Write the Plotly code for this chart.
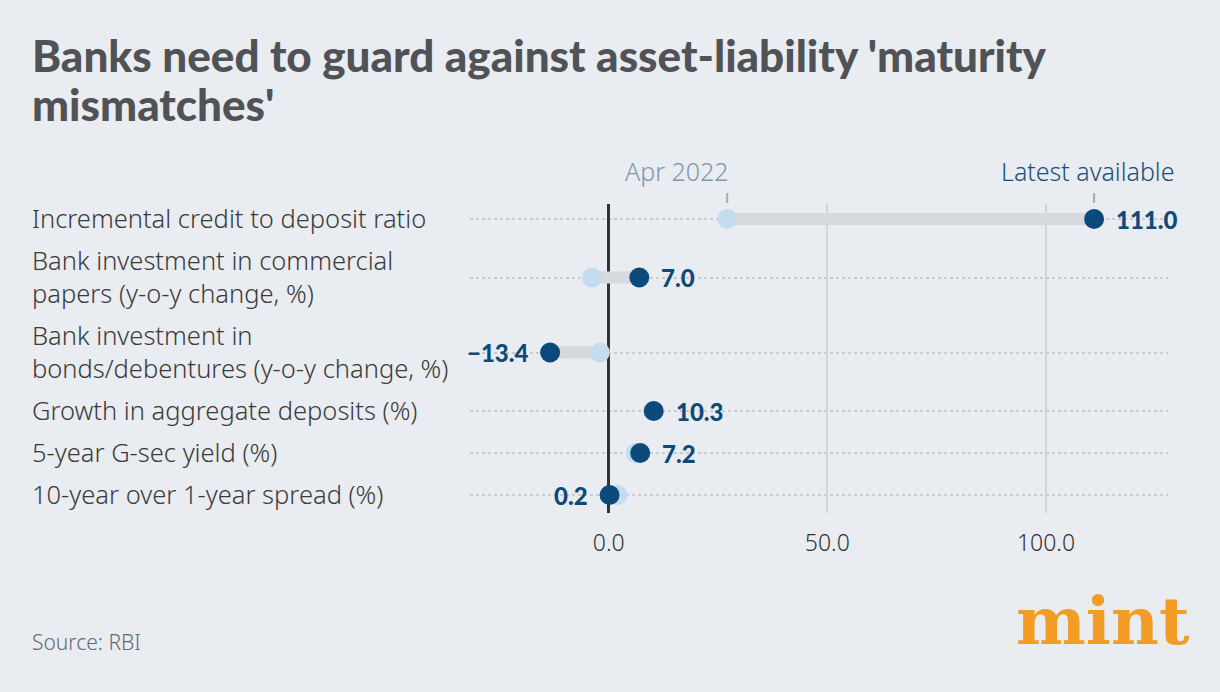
import plotly.graph_objects as go

# ---------------- data ----------------
categories = [
    "Incremental credit to deposit ratio",
    "Bank investment in commercial\npapers (y-o-y change, %)",
    "Bank investment in\nbonds/debentures (y-o-y change, %)",
    "Growth in aggregate deposits (%)",
    "5-year G-sec yield (%)",
    "10-year over 1-year spread (%)",
]
apr_2022 = [27.1, -3.8, -2.0, 10.1, 6.2, 2.0]
latest = [111.0, 7.0, -13.4, 10.3, 7.2, 0.2]
x_ticks = [0, 50, 100]
title_lines = ["Banks need to guard against asset-liability 'maturity", "mismatches'"]
source_text = "Source: RBI"

# ---------------- layout helpers ----------------
W, H = 1220, 692
BG = "#e9ecf1"
DARK_BLUE = "#0c4a7b"
LIGHT_BLUE = "#c3ddef"
CONNECT = "#d8d9dc"
TXT = "#3a3b3d"

# row positions derived from number of label lines
BASE_GAP, LINE_HALF = 42, 16.5
nlines = [c.count("\n") + 1 for c in categories]
rows = [0.0]
for i in range(1, len(categories)):
    rows.append(rows[-1] + BASE_GAP + LINE_HALF * ((nlines[i - 1] - 1) + (nlines[i] - 1)))

plot_left, plot_right = 470, 1168
plot_top, plot_bottom = 204, 513
zero_px, hundred_px = 608.7, 1046
ppu = (hundred_px - zero_px) / 100
x_range = [(plot_left - zero_px) / ppu, (plot_right - zero_px) / ppu]
row0_px = 219
y_range = [plot_bottom - row0_px, plot_top - row0_px]


def ypaper(px):
    return 1 - px / H


fig = go.Figure()

# connectors
cx, cy = [], []
for a, l, r in zip(apr_2022, latest, rows):
    cx += [a, l, None]
    cy += [r, r, None]
fig.add_trace(go.Scatter(x=cx, y=cy, mode="lines",
                         line=dict(color=CONNECT, width=12),
                         hoverinfo="skip", showlegend=False))
fig.add_trace(go.Scatter(x=apr_2022, y=rows, mode="markers",
                         marker=dict(size=20, color=LIGHT_BLUE),
                         name="Apr 2022", showlegend=False))
fig.add_trace(go.Scatter(x=latest, y=rows, mode="markers",
                         marker=dict(size=20, color=DARK_BLUE),
                         name="Latest available", showlegend=False))

annotations = []

# category labels
for cat, r in zip(categories, rows):
    annotations.append(dict(
        xref="paper", yref="y", x=30 / W, y=r - 1,
        text=cat.replace("\n", "<br>"), showarrow=False,
        xanchor="left", yanchor="middle", align="left",
        font=dict(family="Noto Sans", size=25.5, color=TXT, weight=300)))

# value labels
for a, l, r in zip(apr_2022, latest, rows):
    right = l >= a
    annotations.append(dict(
        xref="x", yref="y", x=l, y=r,
        text=f"{l:.1f}".replace("-", "\u2212"), showarrow=False,
        xanchor="left" if right else "right", yanchor="middle",
        xshift=20 if right else -20,
        font=dict(family="Lato", size=24, color=DARK_BLUE, weight=900)))

# series headers
annotations.append(dict(xref="x", yref="paper", x=apr_2022[0], y=ypaper(190),
                        text="Apr 2022", showarrow=False, xanchor="right", yanchor="bottom",
                        xshift=4,
                        font=dict(family="Noto Sans", size=25, color="#7d97a9", weight=300)))
annotations.append(dict(xref="x", yref="paper", x=latest[0], y=ypaper(190),
                        text="Latest available", showarrow=False, xanchor="center", yanchor="bottom",
                        xshift=-7,
                        font=dict(family="Noto Sans", size=25, color="#1c4f7c", weight=300)))

# title, source, logo
for i, t in enumerate(title_lines):
    annotations.append(dict(xref="paper", yref="paper", x=30 / W, y=ypaper(55 + 49 * i),
                            text=t, showarrow=False, xanchor="left", yanchor="middle",
                            font=dict(family="Lato", size=44, color="#505256", weight=900)))
annotations.append(dict(xref="paper", yref="paper", x=30 / W, y=ypaper(642),
                        text=source_text, showarrow=False, xanchor="left", yanchor="middle",
                        font=dict(family="Noto Sans", size=21, color="#666a6e", weight=300)))
annotations.append(dict(xref="paper", yref="paper", x=1192 / W, y=ypaper(662),
                        text="<b>mint</b>", showarrow=False, xanchor="right", yanchor="bottom",
                        font=dict(family="DejaVu Serif", size=66, color="#f39c26")))

shapes = []
for xv in (apr_2022[0], latest[0]):
    shapes.append(dict(type="line", xref="x", yref="paper", x0=xv, x1=xv,
                       y0=ypaper(193), y1=ypaper(203),
                       line=dict(color="#a9abae", width=2)))

fig.update_layout(
    width=W, height=H,
    margin=dict(l=0, r=0, t=0, b=0),
    paper_bgcolor=BG, plot_bgcolor=BG,
    annotations=annotations, shapes=shapes,
    xaxis=dict(domain=[plot_left / W, plot_right / W], range=x_range,
               tickvals=x_ticks, ticktext=[f"{v:.1f}" for v in x_ticks],
               tickfont=dict(family="Noto Sans", size=23, color="#333333", weight=300),
               ticks="outside", ticklen=9, tickcolor=BG,
               showgrid=True, gridcolor="#d2d5d9", gridwidth=1.5,
               zeroline=True, zerolinecolor="#333333", zerolinewidth=3,
               showline=False, fixedrange=True),
    yaxis=dict(domain=[ypaper(plot_bottom), ypaper(plot_top)], range=y_range,
               tickvals=rows, showticklabels=False,
               showgrid=True, gridcolor="#c9cbce", gridwidth=1.5, griddash="dot",
               zeroline=False, showline=False, fixedrange=True),
    hovermode=False,
)

page_js = ("document.body.style.margin='0';document.body.style.padding='0';"
           "document.body.style.background='" + BG + "';"
           "document.body.style.overflow='hidden';")
fig.write_html("out.html", post_script=page_js, config={"displayModeBar": False})
